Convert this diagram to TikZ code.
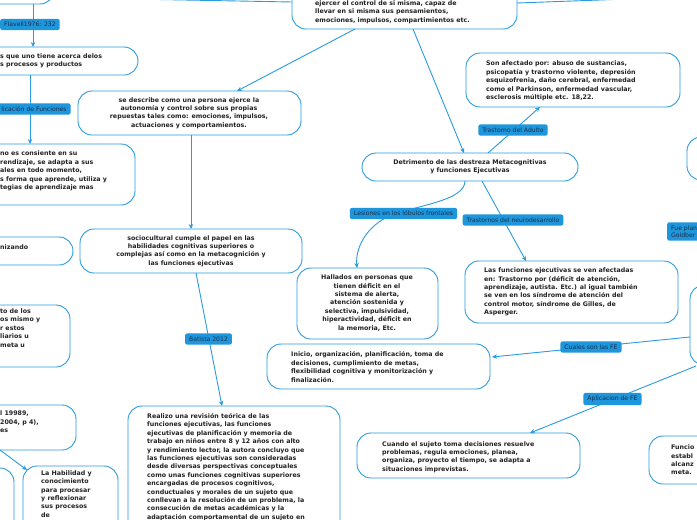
\documentclass[tikz,border=0pt]{standalone}
\usepackage{fontspec}
\setmainfont{DejaVu Sans}
\usetikzlibrary{fit,arrows.meta}
\definecolor{edge}{HTML}{2A9BDE}
\definecolor{lab}{HTML}{1E96DC}
\definecolor{ink}{HTML}{222222}
\definecolor{labink}{HTML}{1A2F4A}
\tikzset{
  box/.style={draw=edge,line width=0.9pt,fill=white,rounded corners=14pt,inner sep=0pt},
  txt/.style={font=\fontsize{6.3}{8.4}\selectfont\bfseries,text=ink,inner sep=0pt},
  lbl/.style={fill=lab,rounded corners=2pt,font=\fontsize{6.1}{7.2}\selectfont,text=labink,inner xsep=4pt,inner ysep=3.2pt},
  conn/.style={draw=edge,line width=0.9pt},
  arr/.style={conn,-{Stealth[length=5pt,width=4.5pt]}}
}
\begin{document}
\begin{tikzpicture}[x=1pt,y=-1pt]
\useasboundingbox (0,0) rectangle (697,520);
\clip (0,0) rectangle (697,520);
\fill[white] (0,0) rectangle (697,520);
\coordinate (offL) at (130,-1);
\coordinate (offR) at (655,-2);
% boxes
\node[box,fit={(292,-30)(517,29)}] (n1) {};
\node[box,fit={(-20,-30)(54,4)}] (n2) {};
\node[box,fit={(-20,47)(138,75)}] (n4) {};
\node[box,fit={(-20,144)(135,205)}] (n6) {};
\node[box,fit={(-20,237)(73,265)}] (n7) {};
\node[box,fit={(-20,305)(70,367)}] (n8) {};
\node[box,fit={(-20,405)(76,450)}] (n9) {};
\node[box,fit={(-20,468)(14,540)}] (n10) {};
\node[box,fit={(23,466)(118,540)}] (n11) {};
\node[box,fit={(78,91)(301,135)}] (n12) {};
\node[box,fit={(80,229)(302,273)}] (n13) {};
\node[box,fit={(128,406)(340,545)}] (n15) {};
\node[box,fit={(466,53)(680,107)}] (n16) {};
\node[box,fit={(362,153)(578,181)}] (n18) {};
\node[box,fit={(297,268)(438,339)}] (n21) {};
\node[box,fit={(465,261)(678,323)}] (n22) {};
\node[box,fit={(267,344)(490,389)}] (n23) {};
\node[box,fit={(357,433)(580,478)}] (n26) {};
\node[box,fit={(649,436)(730,484)}] (n27) {};
\node[box,fit={(687,137)(730,180)}] (n28) {};
\node[box,fit={(690,285)(730,365)}] (n30) {};
% texts
\node[txt,anchor=west,align=left] (t1) at (315,12) {ejercer el control de si misma, capaz de\\llevar en si misma sus pensamientos,\\emociones, impulsos, compartimientos etc.};
\node[txt,anchor=west,align=left] (t4) at (0,61) {s que uno tiene acerca delos\\s procesos y productos};
\node[txt,anchor=west,align=left] (t6) at (0,171) {no es consiente en su\\rendizaje, se adapta a sus\\ales en todo momento,\\s forma que aprende, utiliza y\\tegias de aprendizaje mas};
\node[txt,anchor=west,align=left] (t7) at (0,247) {nizando};
\node[txt,anchor=west,align=left] (t8) at (0,328) {to de los\\os mismo y\\r estos\\liarios u\\ meta u};
\node[txt,anchor=west,align=left] (t9) at (0,422) {l 19989,\\2004, p 4),\\es};
\node[txt,anchor=west,align=left] (t11) at (41,494) {La Habilidad y\\conocimiento\\para procesar\\y reflexionar\\sus procesos\\de};
\node[txt,align=center] (t12) at (189,113) {se describe como una persona ejerce la\\autonomía y control sobre sus propias\\repuestas tales como: emociones, impulsos,\\actuaciones y comportamientos.};
\node[txt,align=center] (t13) at (191,251) {sociocultural cumple el papel en las\\habilidades cognitivas superiores o\\complejas así como en la metacognición y\\las funciones ejecutivas};
\node[txt,anchor=west,align=left] (t15) at (147,467) {Realizo una revisión teórica de las\\funciones ejecutivas, las funciones\\ejecutivas de planificación y memoria de\\trabajo en niños entre 8 y 12 años con alto\\y rendimiento lector, la autora concluyo que\\las funciones ejecutivas son consideradas\\desde diversas perspectivas conceptuales\\como unas funciones cognitivas superiores\\encargadas de procesos cognitivos,\\conductuales y morales de un sujeto que\\conllevan a la resolución de un problema, la\\consecución de metas académicas y la\\adaptación comportamental de un sujeto en};
\node[txt,anchor=west,align=left] (t16) at (486,81) {Son afectado por: abuso de sustancias,\\psicopatía y trastorno violente, depresión\\esquizofrenia, daño cerebral, enfermedad\\como el Parkinson, enfermedad vascular,\\esclerosis múltiple etc. 18,22.};
\node[txt,align=center] (t18) at (470,167) {Detrimento de las destreza Metacognitivas\\y funciones Ejecutivas};
\node[txt,align=center] (t21) at (367,303) {Hallados en personas que\\tienen déficit en el\\sistema de alerta,\\atención sostenida y\\selectiva, impulsividad,\\hiperactividad, déficit en\\la memoria, Etc.};
\node[txt,anchor=west,align=left] (t22) at (484,292) {Las funciones ejecutivas se ven afectadas\\en: Trastorno por (déficit de atención,\\aprendizaje, autista. Etc.) al igual también\\se ven en los síndrome de atención del\\control motor, síndrome de Gilles, de\\Asperger.};
\node[txt,anchor=west,align=left] (t23) at (291,367) {Inicio, organización, planificación, toma de\\decisiones, cumplimiento de metas,\\flexibilidad cognitiva y monitorización y\\finalización.};
\node[txt,anchor=west,align=left] (t26) at (382,457) {Cuando el sujeto toma decisiones resuelve\\problemas, regula emociones, planea,\\organiza, proyecto el tiempo, se adapta a\\situaciones imprevistas.};
\node[txt,anchor=west,align=left] (t27) at (671,460) {Funcio\\establ\\alcanz\\meta.};
% connectors
\coordinate (c1) at (33,4);
\coordinate (c1b) at (33,47);
\coordinate (c2) at (30,75);
\coordinate (c2b) at (30,144);
\coordinate (c3) at (355,29);
\coordinate (c3b) at (237,91);
\coordinate (c4) at (191,135);
\coordinate (c4b) at (191,229);
\coordinate (c5) at (196,273);
\coordinate (c5b) at (222,406);
\coordinate (c6) at (413,29);
\coordinate (c6b) at (464,153);
\coordinate (c7) at (488,153);
\coordinate (c7b) at (540,107);
\coordinate (c8) at (465,181);
\coordinate (c8b) at (357,268);
\coordinate (c9) at (482,181);
\coordinate (c9b) at (526,261);
\coordinate (c10) at (690,337);
\coordinate (c10b) at (492,357);
\coordinate (c11) at (696,366);
\coordinate (c11b) at (530,433);
\coordinate (c12) at (0,450);
\coordinate (c12b) at (27,470);
\coordinate (c13) at (292,2);
\coordinate (c14) at (517,3);
\draw[conn] (offL) -- (c13);
\draw[conn] (c14) -- (offR);
\draw[arr] (c1) -- (c1b);
\draw[arr] (c2) -- (c2b);
\draw[arr] (c3) -- (c3b);
\draw[arr] (c4) -- (c4b);
\draw[arr] (c5) -- (c5b);
\draw[arr] (c6) -- (c6b);
\draw[arr] (c7) -- (c7b);
\draw[arr] (c8) .. controls (465,200) and (420,205) .. (395,214) .. controls (370,222) and (355,245) .. (c8b);
\draw[arr] (c9) -- (c9b);
\draw[arr] (c10) -- (c10b);
\draw[arr] (c11) -- (c11b);
\draw[arr] (c12) -- (c12b);
% labels
\node[lbl,anchor=west] (l3) at (0,24.5) {Flavell1976: 232};
\node[lbl] (l5) at (34,109) {licación de Funciones};
\node[lbl] (l14) at (208.5,339) {Batista 2012};
\node[lbl] (l17) at (513,130) {Trastorno del Adulto};
\node[lbl] (l19) at (403.5,213.5) {Lesiones en los lóbulos frontales};
\node[lbl] (l20) at (513,220) {Trastornos del neurodesarrollo};
\node[lbl] (l24) at (591,347) {Cuales son las FE};
\node[lbl] (l25) at (612.5,399) {Aplicacion de FE};
\node[lbl,align=left,anchor=west] (l29) at (667,231.5) {Fue plan\\Goldber};
\end{tikzpicture}
\end{document}
